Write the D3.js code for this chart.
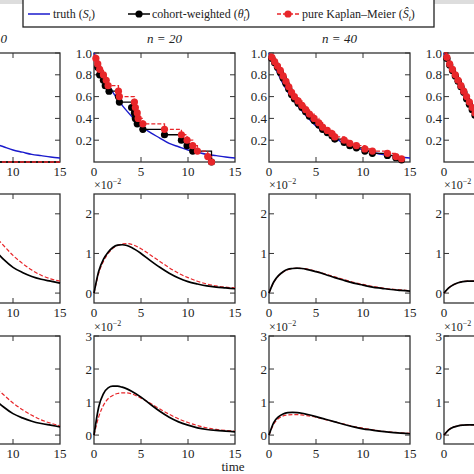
<!DOCTYPE html>
<html><head><meta charset="utf-8">
<script src="https://cdn.jsdelivr.net/npm/d3@7"></script>
<style>
body{margin:0;background:#fff}
text{font-family:"Liberation Serif","DejaVu Serif",serif;fill:#222}
</style></head>
<body><svg width="474" height="474"></svg>
<script>
var svg = d3.select('svg')

// column lefts (px), plot width and row extents
var colX = [-81, 94, 269, 444]
var colTitles = ['n = 10', 'n = 20', 'n = 40', 'n = 80']
var plotW = 141

var timeTicks = [0, 5, 10, 15]
var truthT = [0, 1, 2, 3, 4, 5, 6, 7, 8, 9, 10, 11, 12, 13, 14, 15]
var truthS = [1, 0.8, 0.64, 0.52, 0.42, 0.33, 0.27, 0.22, 0.17, 0.14, 0.11, 0.09, 0.07, 0.058, 0.046, 0.037]

// step estimates per column: [time, value]
var cohort = [
  [[0, 1], [2, 0.6], [4, 0.4], [6, 0.2], [7.5, 0], [15, 0]],
  [[0, 0.95], [0.4, 0.87], [0.6, 0.8], [1.0, 0.75], [1.2, 0.7], [1.6, 0.65], [2.6, 0.6], [2.7, 0.55], [4.0, 0.5], [4.3, 0.45], [4.4, 0.4], [4.6, 0.35], [5.2, 0.3], [7.5, 0.25], [9.3, 0.2], [9.9, 0.15], [10.5, 0.1], [12.5, 0.0]],
  [[0, 0.98], [0.3, 0.95], [0.6, 0.91], [0.9, 0.87], [1.2, 0.82], [1.5, 0.77], [1.8, 0.72], [2.1, 0.67], [2.4, 0.62], [2.7, 0.58], [3.1, 0.54], [3.5, 0.5], [3.9, 0.46], [4.3, 0.42], [4.8, 0.38], [5.3, 0.34], [5.7, 0.3], [6.2, 0.27], [6.7, 0.24], [7.0, 0.21], [8.0, 0.18], [8.6, 0.15], [9.3, 0.13], [10.2, 0.1], [11.0, 0.08], [12.6, 0.06], [13.5, 0.04], [14.1, 0.02]],
  [[0, 1], [0.3, 0.95], [0.6, 0.89], [0.9, 0.84], [1.2, 0.79], [1.5, 0.74], [1.8, 0.69], [2.1, 0.64], [2.4, 0.58], [2.7, 0.53], [3.0, 0.48], [3.3, 0.43], [3.6, 0.4]]
]
var kaplan = [
  [[0, 1], [2, 0.62], [4, 0.42], [6, 0.22], [7.5, 0], [15, 0]],
  [[0, 0.98], [0.2, 0.95], [0.4, 0.9], [0.6, 0.85], [1.0, 0.8], [1.3, 0.75], [1.5, 0.7], [2.6, 0.65], [2.7, 0.6], [4.3, 0.55], [4.4, 0.5], [4.6, 0.45], [4.7, 0.4], [5.2, 0.35], [7.5, 0.3], [9.3, 0.25], [9.9, 0.2], [10.5, 0.15], [11.0, 0.1], [12.1, 0.05], [12.5, 0.0]],
  [[0, 0.99], [0.3, 0.96], [0.6, 0.92], [0.9, 0.88], [1.2, 0.84], [1.5, 0.79], [1.8, 0.74], [2.1, 0.69], [2.4, 0.64], [2.7, 0.6], [3.1, 0.56], [3.5, 0.52], [3.9, 0.48], [4.3, 0.44], [4.8, 0.4], [5.3, 0.36], [5.7, 0.32], [6.2, 0.29], [6.7, 0.26], [7.0, 0.23], [8.0, 0.2], [8.6, 0.17], [9.3, 0.15], [10.2, 0.12], [11.0, 0.1], [12.6, 0.08], [13.5, 0.05], [14.1, 0.03]],
  [[0, 1], [0.3, 0.96], [0.6, 0.9], [0.9, 0.85], [1.2, 0.8], [1.5, 0.75], [1.8, 0.7], [2.1, 0.65], [2.4, 0.6], [2.7, 0.55], [3.0, 0.5], [3.3, 0.45], [3.6, 0.41]]
]

// rows 2 and 3: smooth curves (x10^-2) at these times
var curveT = [0, 0.5, 1, 1.5, 2, 2.5, 3, 3.5, 4, 5, 6, 7, 8, 9, 10, 11, 12, 13, 14, 15]
var row2Black = [
  [0, 0.9, 1.5, 1.9, 2.1, 2.2, 2.2, 2.15, 2.05, 1.85, 1.6, 1.35, 1.1, 0.85, 0.65, 0.52, 0.42, 0.35, 0.3, 0.25],
  [0, 0.55, 0.85, 1.03, 1.15, 1.21, 1.22, 1.2, 1.15, 1.0, 0.82, 0.65, 0.5, 0.38, 0.29, 0.23, 0.18, 0.15, 0.13, 0.11],
  [0, 0.28, 0.44, 0.54, 0.6, 0.62, 0.63, 0.62, 0.6, 0.54, 0.47, 0.39, 0.32, 0.25, 0.2, 0.15, 0.12, 0.09, 0.07, 0.05],
  [0, 0.13, 0.21, 0.26, 0.29, 0.3, 0.3, 0.3, 0.29, 0.27, 0.24, 0.2, 0.17, 0.14, 0.11, 0.09, 0.07, 0.06, 0.05, 0.04]
]
var row2Red = [
  [0, 1.0, 1.6, 2.0, 2.25, 2.35, 2.35, 2.3, 2.25, 2.1, 1.9, 1.7, 1.45, 1.2, 0.95, 0.75, 0.58, 0.45, 0.36, 0.3],
  [0, 0.5, 0.8, 1.0, 1.13, 1.2, 1.24, 1.25, 1.23, 1.12, 0.96, 0.8, 0.64, 0.5, 0.39, 0.3, 0.23, 0.18, 0.15, 0.13],
  [0, 0.27, 0.43, 0.53, 0.59, 0.62, 0.63, 0.62, 0.61, 0.55, 0.48, 0.41, 0.34, 0.27, 0.22, 0.17, 0.13, 0.1, 0.08, 0.06],
  [0, 0.13, 0.21, 0.26, 0.29, 0.3, 0.3, 0.3, 0.29, 0.27, 0.24, 0.2, 0.17, 0.14, 0.11, 0.09, 0.07, 0.06, 0.05, 0.04]
]
var row3Black = [
  [0, 1.0, 1.6, 2.0, 2.25, 2.3, 2.3, 2.25, 2.15, 1.95, 1.7, 1.4, 1.1, 0.85, 0.65, 0.52, 0.42, 0.35, 0.3, 0.25],
  [0, 0.85, 1.25, 1.43, 1.48, 1.48, 1.45, 1.4, 1.33, 1.15, 0.93, 0.72, 0.54, 0.4, 0.3, 0.22, 0.17, 0.14, 0.12, 0.1],
  [0, 0.38, 0.55, 0.64, 0.68, 0.69, 0.68, 0.66, 0.63, 0.56, 0.48, 0.4, 0.32, 0.25, 0.19, 0.15, 0.11, 0.08, 0.06, 0.04],
  [0, 0.16, 0.24, 0.28, 0.3, 0.31, 0.31, 0.3, 0.29, 0.27, 0.24, 0.2, 0.17, 0.14, 0.11, 0.09, 0.07, 0.06, 0.05, 0.04]
]
var row3Red = [
  [0, 1.05, 1.65, 2.05, 2.3, 2.4, 2.4, 2.35, 2.3, 2.15, 1.95, 1.72, 1.48, 1.22, 0.97, 0.77, 0.6, 0.46, 0.36, 0.28],
  [0, 0.55, 0.9, 1.1, 1.2, 1.26, 1.28, 1.28, 1.25, 1.12, 0.96, 0.79, 0.63, 0.49, 0.38, 0.29, 0.22, 0.17, 0.14, 0.12],
  [0, 0.33, 0.5, 0.58, 0.61, 0.62, 0.62, 0.61, 0.59, 0.54, 0.47, 0.4, 0.33, 0.26, 0.21, 0.16, 0.12, 0.09, 0.07, 0.05],
  [0, 0.16, 0.24, 0.28, 0.3, 0.31, 0.31, 0.3, 0.29, 0.27, 0.24, 0.2, 0.17, 0.14, 0.11, 0.09, 0.07, 0.06, 0.05, 0.04]
]

var rows = [
  { top: 53, bottom: 162, domain: [0, 1], ticks: [0.2, 0.4, 0.6, 0.8, 1.0], fmt: d3.format('.1f'), exp: false },
  { top: 194, bottom: 303, domain: [-0.25, 2.5], ticks: [0, 1, 2], fmt: d3.format('d'), exp: true },
  { top: 336, bottom: 444, domain: [-0.27, 3], ticks: [0, 1, 2, 3], fmt: d3.format('d'), exp: true }
]

var red = '#e8262a'
var fs = 13

function frame(g, x, y, row) {
  g.append('rect').attr('x', x.range()[0]).attr('y', row.top)
    .attr('width', plotW).attr('height', row.bottom - row.top)
    .attr('fill', 'none').attr('stroke', '#333').attr('stroke-width', 1.3)
  timeTicks.forEach(t => {
    if (t === 0 || t === 15) return
    g.append('line').attr('x1', x(t)).attr('x2', x(t)).attr('y1', row.bottom).attr('y2', row.bottom - 5).attr('stroke', '#333')
    g.append('line').attr('x1', x(t)).attr('x2', x(t)).attr('y1', row.top).attr('y2', row.top + 5).attr('stroke', '#333')
  })
  timeTicks.forEach(t => {
    g.append('text').attr('x', x(t)).attr('y', row.bottom + 14).attr('text-anchor', 'middle')
      .attr('font-size', fs).text(t)
  })
  row.ticks.forEach(v => {
    g.append('line').attr('x1', x.range()[0]).attr('x2', x.range()[0] + 5).attr('y1', y(v)).attr('y2', y(v)).attr('stroke', '#333')
    g.append('line').attr('x1', x.range()[1]).attr('x2', x.range()[1] - 5).attr('y1', y(v)).attr('y2', y(v)).attr('stroke', '#333')
    g.append('text').attr('x', x.range()[0] - 2).attr('y', y(v) + 4.5).attr('text-anchor', 'end')
      .attr('font-size', fs).text(row.fmt(v))
  })
  if (row.exp) {
    var tx = g.append('text').attr('x', x.range()[0]).attr('y', row.top - 5).attr('font-size', 12)
    tx.append('tspan').text('\u00d710')
    tx.append('tspan').attr('dy', -5).attr('font-size', 8).text('\u22122')
  }
}

colX.forEach((cx, c) => {
  var g = svg.append('g')
  var x = d3.scaleLinear().domain([0, 15]).range([cx, cx + plotW])
  var clipId = 'clip' + c
  svg.append('clipPath').attr('id', clipId).append('rect')
    .attr('x', cx - 4).attr('y', 0).attr('width', plotW + 8).attr('height', 474)

  g.append('text').attr('x', cx + plotW / 2).attr('y', 43).attr('text-anchor', 'middle')
    .attr('font-size', fs).attr('font-style', 'italic').text(colTitles[c])

  rows.forEach((row, r) => {
    var y = d3.scaleLinear().domain(row.domain).range([row.bottom, row.top])
    frame(g, x, y, row)
    var pg = g.append('g').attr('clip-path', 'url(#' + clipId + ')')
    if (r === 0) {
      var step = d3.line().x(d => x(d[0])).y(d => y(d[1])).curve(d3.curveStepAfter)
      pg.append('path').datum(truthT.map((t, i) => [t, truthS[i]]))
        .attr('d', d3.line().x(d => x(d[0])).y(d => y(d[1])).curve(d3.curveMonotoneX))
        .attr('fill', 'none').attr('stroke', '#1a1acc').attr('stroke-width', 1.4)
      pg.append('path').datum(cohort[c]).attr('d', step)
        .attr('fill', 'none').attr('stroke', '#000').attr('stroke-width', 1.3)
      pg.append('path').datum(kaplan[c]).attr('d', step)
        .attr('fill', 'none').attr('stroke', red).attr('stroke-width', 1.3).attr('stroke-dasharray', '4,2')
      pg.selectAll(null).data(cohort[c].slice(1).filter(d => d[0] < 15)).enter().append('circle')
        .attr('cx', d => x(d[0])).attr('cy', d => y(d[1])).attr('r', 3.6).attr('fill', '#000')
      pg.selectAll(null).data(kaplan[c].slice(1).filter(d => d[0] < 15)).enter().append('circle')
        .attr('cx', d => x(d[0])).attr('cy', d => y(d[1])).attr('r', 3.6).attr('fill', red)
    } else {
      var blk = r === 1 ? row2Black[c] : row3Black[c]
      var rd = r === 1 ? row2Red[c] : row3Red[c]
      var ln = d3.line().x((d, i) => x(curveT[i])).y(d => y(d)).curve(d3.curveMonotoneX)
      pg.append('path').datum(rd).attr('d', ln).attr('fill', 'none')
        .attr('stroke', red).attr('stroke-width', 1.2).attr('stroke-dasharray', '4,2')
      pg.append('path').datum(blk).attr('d', ln).attr('fill', 'none')
        .attr('stroke', '#000').attr('stroke-width', 1.7)
    }
  })
})

svg.append('text').attr('x', 233).attr('y', 471).attr('text-anchor', 'middle')
  .attr('font-size', fs).text('time')

// legend
svg.append('rect').attr('x', 0).attr('y', -2).attr('width', 474).attr('height', 6).attr('fill', '#ddd')
svg.append('rect').attr('x', 23).attr('y', -5).attr('width', 411).attr('height', 32)
  .attr('fill', '#fff').attr('stroke', '#222').attr('stroke-width', 1.3)
var leg = svg.append('g')
leg.append('line').attr('x1', 28).attr('x2', 50).attr('y1', 14).attr('y2', 14).attr('stroke', '#1a1acc').attr('stroke-width', 1.5)
var t1 = leg.append('text').attr('x', 53).attr('y', 18).attr('font-size', 12)
t1.append('tspan').text('truth (')
t1.append('tspan').attr('font-style', 'italic').text('S')
t1.append('tspan').attr('font-style', 'italic').attr('font-size', 8).attr('dy', 3).text('t')
t1.append('tspan').attr('dy', -3).text(')')
leg.append('line').attr('x1', 128).attr('x2', 150).attr('y1', 14).attr('y2', 14).attr('stroke', '#000').attr('stroke-width', 1.5)
leg.append('circle').attr('cx', 139).attr('cy', 14).attr('r', 3.6).attr('fill', '#000')
var t2 = leg.append('text').attr('x', 152).attr('y', 18).attr('font-size', 12)
t2.append('tspan').text('cohort-weighted (')
t2.append('tspan').attr('font-style', 'italic').text('\u03b8\u0302')
t2.append('tspan').attr('font-style', 'italic').attr('font-size', 8).attr('dy', 3).text('t')
t2.append('tspan').attr('dy', -3).text(')')
leg.append('line').attr('x1', 277).attr('x2', 300).attr('y1', 14).attr('y2', 14).attr('stroke', red).attr('stroke-width', 1.3).attr('stroke-dasharray', '4,2')
leg.append('circle').attr('cx', 288).attr('cy', 14).attr('r', 3.6).attr('fill', red)
var t3 = leg.append('text').attr('x', 302).attr('y', 18).attr('font-size', 12)
t3.append('tspan').text('pure Kaplan\u2013Meier (')
t3.append('tspan').attr('font-style', 'italic').text('S\u0302')
t3.append('tspan').attr('font-style', 'italic').attr('font-size', 8).attr('dy', 3).text('t')
t3.append('tspan').attr('dy', -3).text(')')
</script></body></html>
